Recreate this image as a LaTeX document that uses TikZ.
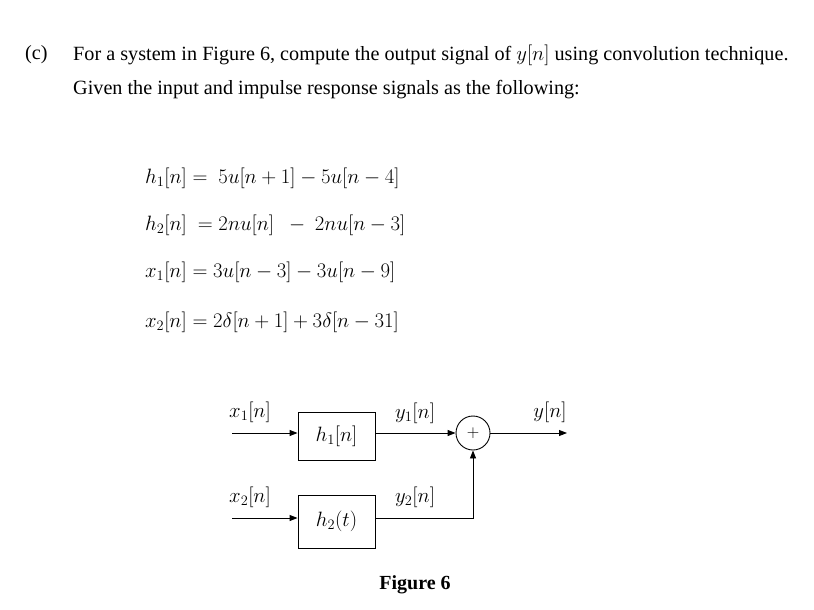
\documentclass[tikz,border=0pt]{standalone}
\usepackage{fontspec}
\setmainfont{Liberation Serif}
\usetikzlibrary{arrows.meta}
\begin{document}
\begin{tikzpicture}[x=1pt,y=-1pt,
  txt/.style={inner sep=0pt,font=\fontsize{20.2}{24}\selectfont},
  lab/.style={inner sep=0pt,font=\fontsize{20}{24}\selectfont},
  eq/.style={inner sep=0pt,anchor=west,font=\fontsize{20.5}{24}\selectfont},
  blk/.style={draw,line width=0.9pt,minimum width=77pt,inner sep=0pt,font=\fontsize{20}{24}\selectfont},
  sig/.style={line width=0.9pt,-{Triangle[length=8pt,width=6pt]}}]
\useasboundingbox (0,0) rectangle (814,610);
\node[txt,anchor=west] (c) at (25,55) {(c)};
\node[txt,anchor=west] (l1) at (73,55) {For a system in Figure 6, compute the output signal of $y[n]$ using convolution technique.};
\node[txt,anchor=west] (l2) at (73,90) {Given the input and impulse response signals as the following:};
\node[eq] (e1) at (145,178) {$h_1[n] = \ 5u[n+1] - 5u[n-4]$};
\node[eq] (e2) at (145,225) {$h_2[n] \ = 2nu[n] \ \ - \ 2nu[n-3]$};
\node[eq] (e3) at (145,272) {$x_1[n] = 3u[n-3] - 3u[n-9]$};
\node[eq] (e4) at (145,322) {$x_2[n] = 2\delta[n+1] + 3\delta[n-31]$};
\node[blk,minimum height=48pt] (h1) at (336.5,436) {$h_1[n]$};
\node[blk,minimum height=53pt] (h2) at (336.5,521.5) {$h_2(t)$};
\node[draw,circle,line width=0.9pt,minimum size=34pt,inner sep=0pt,font=\fontsize{17}{20}\selectfont] (s) at (473,433) {$+$};
\coordinate (x1s) at (232,433);
\coordinate (x2s) at (232,518);
\coordinate (ye) at (567,433);
\coordinate (cor) at (473,518);
\draw[sig] (x1s) -- (x1s -| h1.west);
\draw[sig] (x2s) -- (x2s -| h2.west);
\draw[sig] (h1.east |- s) -- (s.west);
\draw[sig] (s.east) -- (ye);
\draw[sig] (h2.east |- cor) -- (cor) -- (s.south);
\node[lab] (lx1) at (250,412) {$x_1[n]$};
\node[lab] (lx2) at (250,497) {$x_2[n]$};
\node[lab] (ly1) at (415,413) {$y_1[n]$};
\node[lab] (ly2) at (415,497) {$y_2[n]$};
\node[lab] (ly) at (550,412) {$y[n]$};
\node[txt,font=\fontsize{20}{24}\selectfont\bfseries] (fig) at (415,585) {Figure 6};
\end{tikzpicture}
\end{document}
